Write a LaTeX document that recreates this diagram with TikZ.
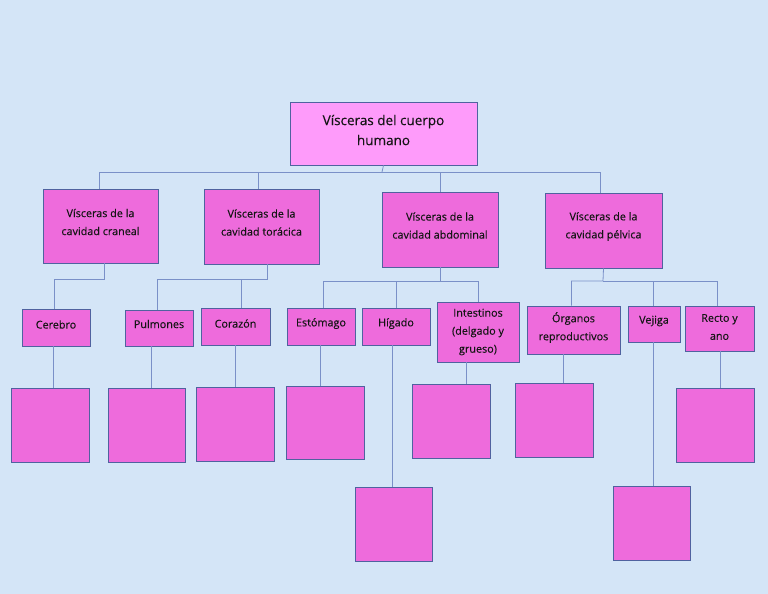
\documentclass[tikz,border=0pt]{standalone}
\usepackage{fontspec}
\setmainfont{Open Sans}[FakeBold=0.25]
\usetikzlibrary{calc}
\definecolor{bg}{HTML}{D4E5F7}
\definecolor{topfill}{HTML}{FE9BFA}
\definecolor{boxfill}{HTML}{EE6BDC}
\definecolor{boxline}{HTML}{50629F}
\definecolor{conn}{HTML}{7A90C8}
\definecolor{txt}{HTML}{151515}
\begin{document}
\begin{tikzpicture}[x=1pt,y=-1pt,
  box/.style={draw=boxline,line width=0.8pt,fill=boxfill,inner sep=2pt},
  topbox/.style={box,fill=topfill},
  lbl/.style={align=center,text=txt,inner sep=0pt,font=\fontsize{10.8}{18}\selectfont},
  toplbl/.style={lbl,font=\fontsize{13.5}{20}\selectfont},
  link/.style={draw=conn,line width=0.8pt}]
\fill[bg] (0,0) rectangle (768,594);
\useasboundingbox (0,0) rectangle (768,594);
% top
\node[topbox,minimum width=187pt,minimum height=63pt,label={[toplbl,yshift=3.5pt]center:{Vísceras del cuerpo\\humano}}] (top) at (383.5,133.5) {};
% level 1
\node[box,minimum width=115pt,minimum height=74pt,label={[lbl,yshift=4pt]center:{Vísceras de la\\cavidad craneal}}] (cran) at (100.5,226) {};
\node[box,minimum width=115pt,minimum height=75pt,label={[lbl,yshift=4pt]center:{Vísceras de la\\cavidad torácica}}] (tora) at (261.5,226.5) {};
\node[box,minimum width=116pt,minimum height=75pt,label={[lbl,yshift=4pt]center:{Vísceras de la\\cavidad abdominal}}] (abdo) at (440,229.5) {};
\node[box,minimum width=117pt,minimum height=75pt,label={[lbl,yshift=4pt]center:{Vísceras de la\\cavidad pélvica}}] (pelv) at (603.5,230.5) {};
% level 2
\node[box,minimum width=68pt,minimum height=37pt,label={[lbl,yshift=3pt]center:{Cerebro}}] (cere) at (56,327.5) {};
\node[box,minimum width=68pt,minimum height=36pt,label={[lbl,yshift=4pt]center:{Pulmones}}] (pulm) at (159,328) {};
\node[box,minimum width=69pt,minimum height=37pt,label={[lbl,yshift=3pt]center:{Corazón}}] (cora) at (235.5,326.5) {};
\node[box,minimum width=68pt,minimum height=37pt,label={[lbl,yshift=3pt]center:{Estómago}}] (esto) at (321,326.5) {};
\node[box,minimum width=68pt,minimum height=37pt,label={[lbl,yshift=3pt]center:{Hígado}}] (higa) at (396,326.5) {};
\node[box,minimum width=82pt,minimum height=60pt,label={[lbl,yshift=0pt]center:{Intestinos\\(delgado y\\grueso)}}] (inte) at (478,332) {};
\node[box,minimum width=93pt,minimum height=48pt,label={[lbl,yshift=2.5pt]center:{Órganos\\reproductivos}}] (orga) at (573.5,330) {};
\node[box,minimum width=52pt,minimum height=36pt,label={[lbl,yshift=3pt]center:{Vejiga}}] (veji) at (654,324) {};
\node[box,minimum width=69pt,minimum height=45pt,label={[lbl,yshift=1.5pt]center:{Recto y\\ano}}] (rect) at (719.5,328.5) {};
% level 3
\node[box,minimum width=78pt,minimum height=74pt] (e1) at (50,425) {};
\node[box,minimum width=77pt,minimum height=74pt] (e2) at (146.5,425) {};
\node[box,minimum width=78pt,minimum height=74pt] (e3) at (235,424) {};
\node[box,minimum width=78pt,minimum height=73pt] (e4) at (325,422.5) {};
\node[box,minimum width=77pt,minimum height=74pt] (e5) at (393.5,524) {};
\node[box,minimum width=78pt,minimum height=74pt] (e6) at (451,421) {};
\node[box,minimum width=78pt,minimum height=74pt] (e7) at (554,420) {};
\node[box,minimum width=77pt,minimum height=74pt] (e8) at (651.5,523) {};
\node[box,minimum width=78pt,minimum height=74pt] (e9) at (715,425) {};
% connectors level 0-1
\coordinate (b0) at (382,172);
\path[link] (top.south) -- (b0);
\path[link] ($(cran.north)+(-1,0)$) -- ($(cran.north |- b0)+(-1,0)$) -- ($(pelv.north |- b0)+(-3,0)$) -- ($(pelv.north)+(-3,0)$);
\path[link] ($(tora.north)+(-3,0)$) -- ($(tora.north |- b0)+(-3,0)$);
\path[link] (abdo.north) -- (abdo.north |- b0);
% craneal
\coordinate (b1) at (104,279);
\path[link] (cran.south -| b1) -- (b1) -- ($(cere.north |- b1)+(-2,0)$) -- ($(cere.north)+(-2,0)$);
% toracica
\coordinate (b2) at (267,279);
\path[link] (tora.south -| b2) -- (b2) -- ($(pulm.north |- b2)+(-2,0)$) -- ($(pulm.north)+(-2,0)$);
\path[link] (b2) -- ($(cora.north |- b2)+(6,0)$) -- ($(cora.north)+(6,0)$);
% abdominal
\coordinate (b3) at (440,281);
\path[link] (abdo.south) -- (b3) -- ($(esto.north |- b3)+(2,0)$) -- ($(esto.north)+(2,0)$);
\path[link] (b3) -- (inte.north |- b3) -- (inte.north);
\path[link] (higa.north) -- (higa.north |- b3);
% pelvica
\coordinate (b4) at (603,281);
\path[link] (pelv.south) -- (b4) -- ($(orga.north |- b4)+(-2,0)$) -- ($(orga.north)+(-2,0)$);
\path[link] (b4) -- ($(rect.north |- b4)+(-2,0)$) -- ($(rect.north)+(-2,0)$);
\path[link] ($(veji.north)+(-1,0)$) -- ($(veji.north |- b4)+(-1,0)$);
% level 2-3
\path[link] ($(e1.north)+(3,0)$) -- ($(e1.north |- cere.south)+(3,0)$);
\path[link] ($(e2.north)+(5,0)$) -- ($(e2.north |- pulm.south)+(5,0)$);
\path[link] (e3.north) -- (e3.north |- cora.south);
\path[link] ($(e4.north)+(-5,0)$) -- ($(e4.north |- esto.south)+(-5,0)$);
\path[link] ($(e5.north)+(-1,0)$) -- ($(e5.north |- higa.south)+(-1,0)$);
\path[link] ($(e6.north)+(15,0)$) -- ($(e6.north |- inte.south)+(15,0)$);
\path[link] ($(e7.north)+(9,0)$) -- ($(e7.north |- orga.south)+(9,0)$);
\path[link] ($(e8.north)+(2,0)$) -- ($(e8.north |- veji.south)+(2,0)$);
\path[link] ($(e9.north)+(5,0)$) -- ($(e9.north |- rect.south)+(5,0)$);
\end{tikzpicture}
\end{document}
